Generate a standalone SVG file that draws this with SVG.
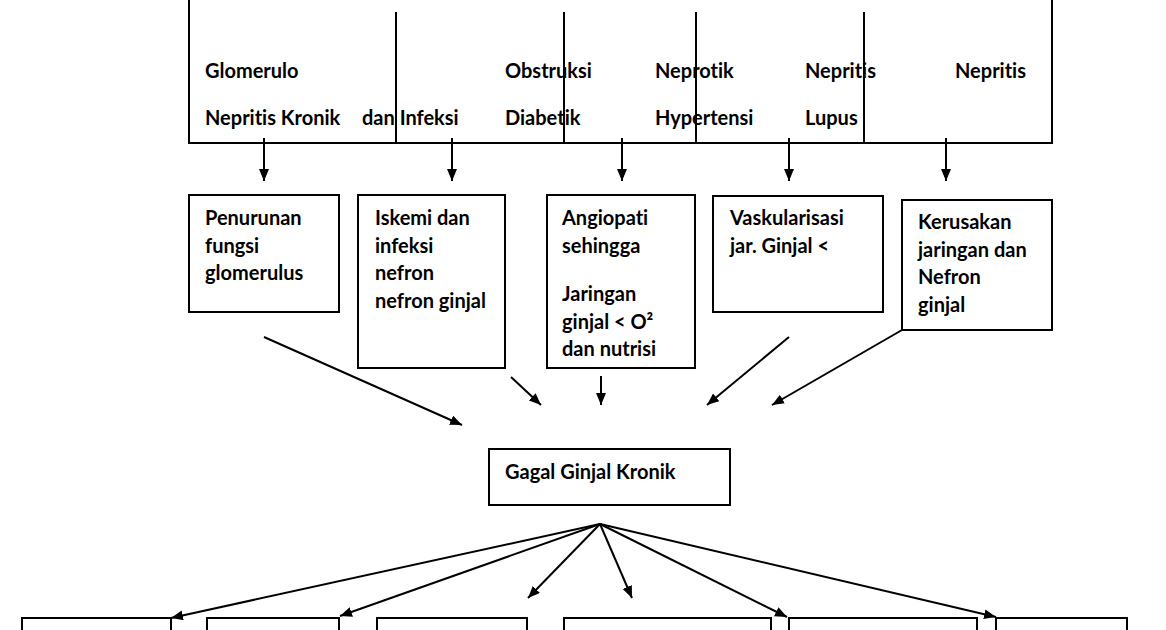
<svg xmlns="http://www.w3.org/2000/svg" width="1166" height="630" viewBox="0 0 1166 630">
<defs>
<marker id="ah" markerUnits="userSpaceOnUse" markerWidth="13" markerHeight="11" refX="12" refY="5" orient="auto">
<path d="M0,0 L12,5 L0,10 z" fill="#000"/>
</marker>
</defs>
<style>
.b{fill:#fff;stroke:#000;stroke-width:2}
.ln{stroke:#000;stroke-width:2;fill:none}
.c{stroke:#000;stroke-width:2;fill:none;marker-end:url(#ah)}
text{font-family:Lato,"Liberation Sans",sans-serif;font-weight:bold;font-size:20px;fill:#000;font-variant-ligatures:none}
</style>
<rect width="1166" height="630" fill="#fff"/>
<g id="causes">
<path class="ln" d="M189,-2 V143 H1052 V-2"/>
<path class="ln" d="M396,12 V143 M564,12 V143 M696,12 V143 M864,12 V143"/>
<text x="205" y="78">Glomerulo</text>
<text x="505" y="78">Obstruksi</text>
<text x="655" y="78">Neprotik</text>
<text x="805" y="78">Nepritis</text>
<text x="955" y="78">Nepritis</text>
<text x="205" y="125">Nepritis Kronik</text>
<text x="362" y="125">dan Infeksi</text>
<text x="505" y="125">Diabetik</text>
<text x="655" y="125">Hypertensi</text>
<text x="805" y="125">Lupus</text>
</g>
<g id="n1">
<rect class="b" x="189" y="195" width="150" height="117"/>
<text x="205" y="225">Penurunan</text>
<text x="205" y="253">fungsi</text>
<text x="205" y="280">glomerulus</text>
</g>
<g id="n2">
<rect class="b" x="358" y="195" width="147" height="173"/>
<text x="375" y="225">Iskemi dan</text>
<text x="375" y="253">infeksi</text>
<text x="375" y="280">nefron</text>
<text x="375" y="308">nefron ginjal</text>
</g>
<g id="n3">
<rect class="b" x="547" y="195" width="148" height="173"/>
<text x="562" y="225">Angiopati</text>
<text x="562" y="253">sehingga</text>
<text x="562" y="301">Jaringan</text>
<text x="562" y="329">ginjal &lt; O²</text>
<text x="562" y="356">dan nutrisi</text>
</g>
<g id="n4">
<rect class="b" x="713" y="196" width="170" height="116"/>
<text x="730" y="225">Vaskularisasi</text>
<text x="730" y="253">jar. Ginjal &lt;</text>
</g>
<g id="n5">
<rect class="b" x="902" y="200" width="150" height="130"/>
<text x="918" y="229">Kerusakan</text>
<text x="918" y="257">jaringan dan</text>
<text x="918" y="284">Nefron</text>
<text x="918" y="312">ginjal</text>
</g>
<g id="ggk">
<rect class="b" x="489" y="449" width="241" height="56"/>
<text x="505" y="479">Gagal Ginjal Kronik</text>
</g>
<g id="bottom">
<rect class="b" x="22" y="618" width="149" height="20"/>
<rect class="b" x="207" y="618" width="132" height="20"/>
<rect class="b" x="377" y="618" width="150" height="20"/>
<rect class="b" x="564" y="618" width="207" height="20"/>
<rect class="b" x="789" y="618" width="188" height="20"/>
<rect class="b" x="996" y="618" width="131" height="20"/>
</g>
<g id="connectors">
<line class="c" x1="264" y1="138" x2="264" y2="181"/>
<line class="c" x1="452" y1="138" x2="452" y2="181"/>
<line class="c" x1="622" y1="138" x2="622" y2="181"/>
<line class="c" x1="789" y1="138" x2="789" y2="181"/>
<line class="c" x1="946" y1="138" x2="946" y2="181"/>
<line class="c" x1="264" y1="337" x2="462" y2="425"/>
<line class="c" x1="511" y1="377" x2="541" y2="405"/>
<line class="c" x1="601" y1="376" x2="601" y2="405"/>
<line class="c" x1="789" y1="337" x2="707" y2="405"/>
<line class="c" x1="902" y1="330" x2="772" y2="405"/>
<line class="c" x1="600" y1="524" x2="171" y2="618"/>
<line class="c" x1="600" y1="524" x2="340" y2="616"/>
<line class="c" x1="600" y1="524" x2="528" y2="598"/>
<line class="c" x1="600" y1="524" x2="632" y2="598"/>
<line class="c" x1="600" y1="524" x2="787" y2="617"/>
<line class="c" x1="600" y1="524" x2="996" y2="617"/>
</g>
</svg>
